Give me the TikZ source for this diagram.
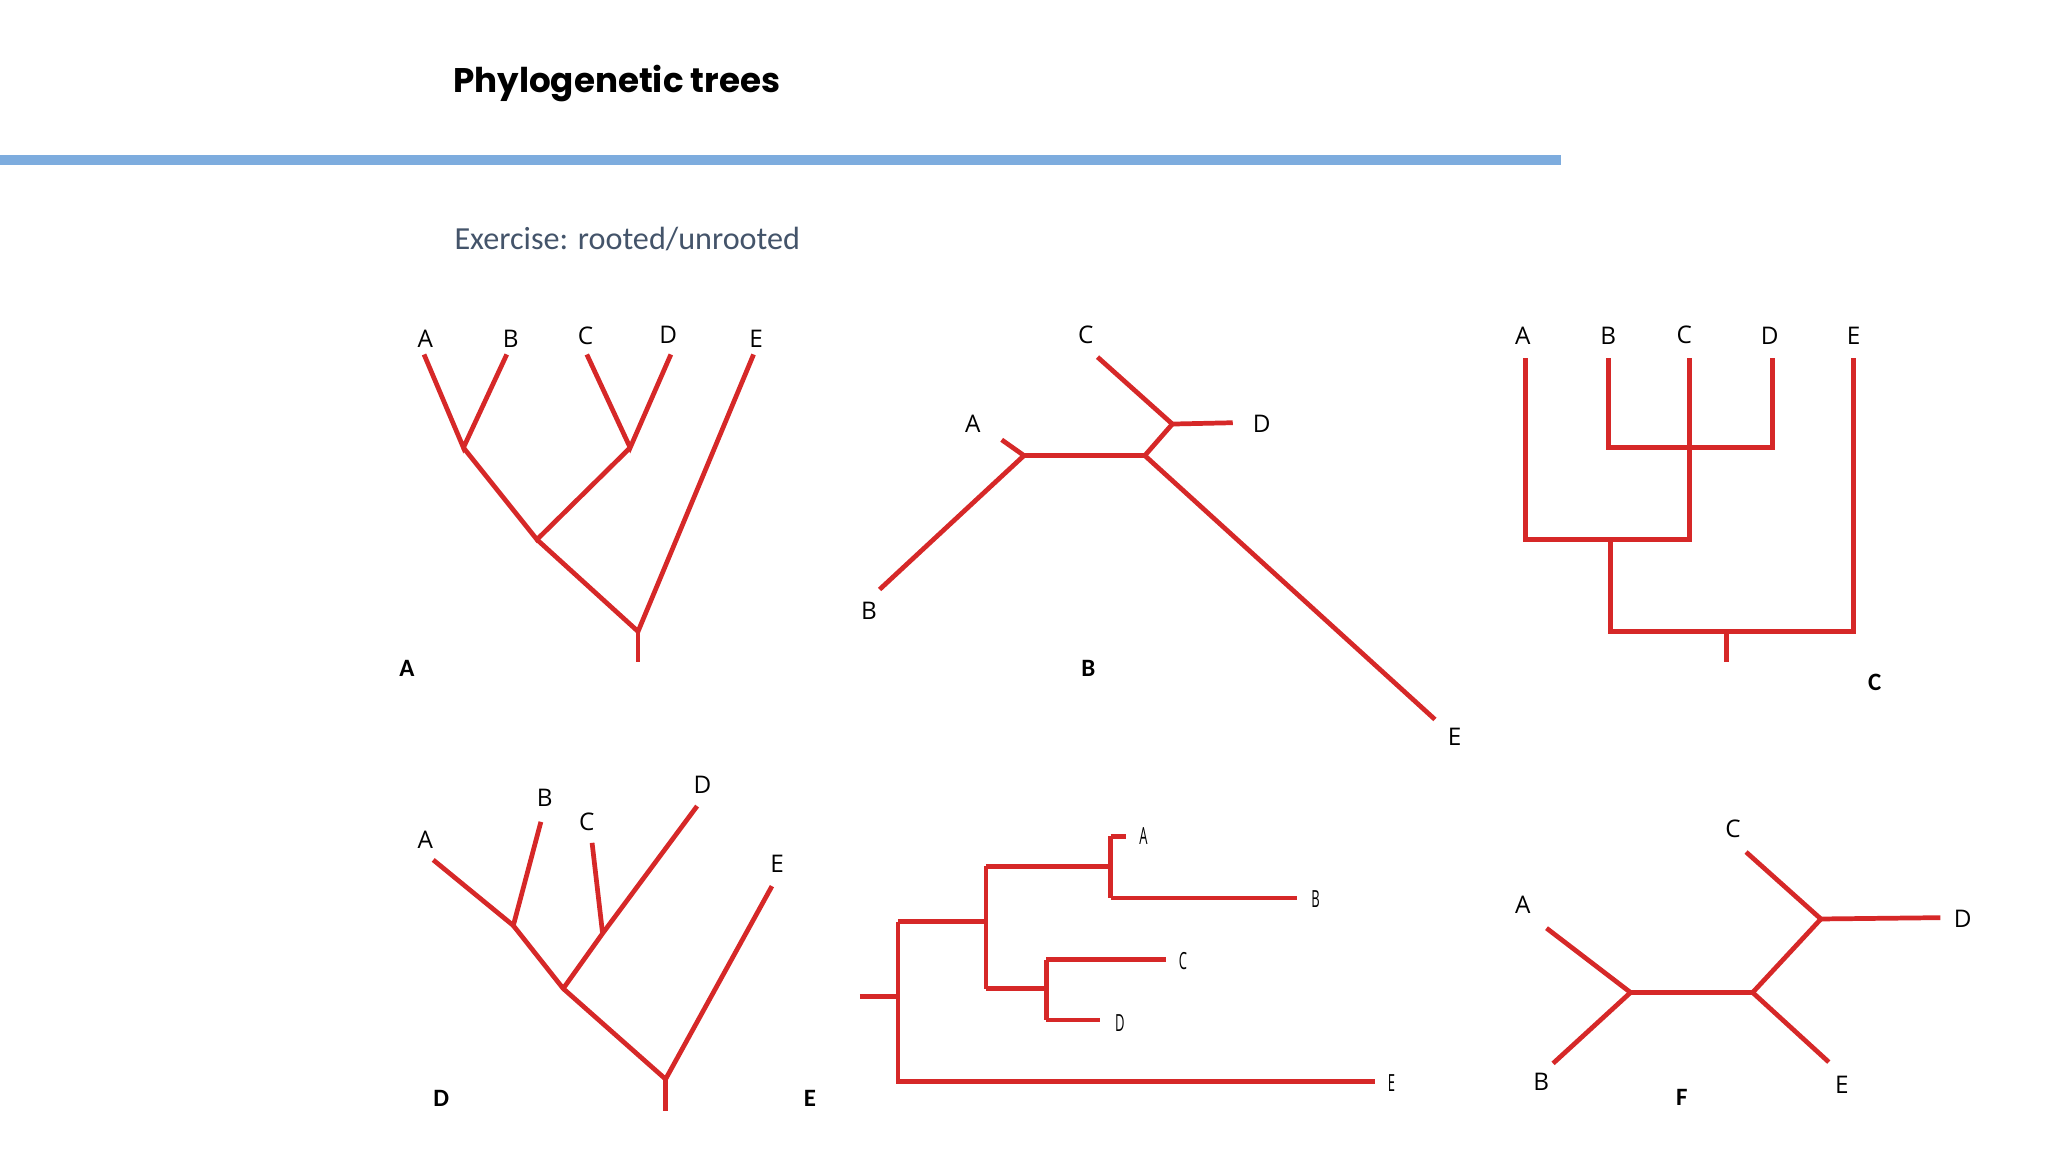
\documentclass[tikz,border=0pt]{standalone}
\usepackage{fontspec}
\setmainfont{Open Sans}
\newfontfamily\titlefont{Poppins}
\newfontfamily\subfont{Carlito}
\newfontfamily\boldlab{Carlito}
\definecolor{tree}{RGB}{214,40,40}
\definecolor{bar}{RGB}{125,172,222}
\definecolor{sub}{RGB}{68,84,106}
\begin{document}
\begin{tikzpicture}[x=1pt,y=-1pt,
  br/.style={draw=tree,line width=3.6pt,line cap=butt,line join=miter},
  lf/.style={font=\fontsize{18.5}{18.5}\selectfont,inner sep=0pt},
  nl/.style={font=\fontsize{18}{18}\selectfont,inner sep=0pt,xscale=0.55},
  tl/.style={font=\boldlab\bfseries\fontsize{19}{19}\selectfont,inner sep=0pt}]
\useasboundingbox (0,0) rectangle (1560,877.5);
\node[anchor=west,inner sep=0pt,font=\titlefont\bfseries\fontsize{26}{26}\selectfont] (title) at (345,64) {Phylogenetic\ trees};
\fill[bar] (0,118) rectangle (1189,126);
\node[anchor=west,inner sep=0pt,text=sub,font=\subfont\fontsize{24.5}{24.5}\selectfont] (subt) at (346,182) {Exercise: rooted/unrooted};
% Tree A
\coordinate (aA) at (323,270); \coordinate (aB) at (386,270); \coordinate (aC) at (447,270);
\coordinate (aD) at (511,270); \coordinate (aE) at (574,270);
\coordinate (aAB) at (353,341); \coordinate (aCD) at (480,341); \coordinate (aX) at (409,411);
\coordinate (aR) at (486,481); \coordinate (aS) at (486,504);
\draw[br] (aA)--(aAB)--(aB); \draw[br] (aC)--(aCD)--(aD);
\draw[br] (aAB)--(aX)--(aCD); \draw[br] (aX)--(aR)--(aE); \draw[br] (aR)--(aS);
\node[lf] (laA) at (324,258) {A}; \node[lf] (laB) at (389,258) {B}; \node[lf] (laC) at (446,256) {C};
\node[lf] (laD) at (509,255) {D}; \node[lf] (laE) at (576,258) {E};
\node[tl] (tA) at (310,509) {A};
% Tree B
\coordinate (bC) at (836,272); \coordinate (bn1) at (893,323); \coordinate (bD) at (939,322);
\coordinate (bn2) at (872,347); \coordinate (bn3) at (780,347); \coordinate (bA) at (763,335);
\coordinate (bB) at (670,449); \coordinate (bE) at (1093,548);
\draw[br] (bC)--(bn1)--(bD); \draw[br] (bn1)--(bn2)--(bn3)--(bA);
\draw[br] (bn3)--(bB); \draw[br] (bn2)--(bE);
\node[lf] (lbC) at (827,255) {C}; \node[lf] (lbD) at (961,323) {D}; \node[lf] (lbA) at (741,323) {A};
\node[lf] (lbB) at (662,465) {B}; \node[lf] (lbE) at (1108,561) {E};
\node[tl] (tB) at (829,509) {B};
% Tree C
\coordinate (cA) at (1162,273); \coordinate (cB) at (1225,273); \coordinate (cC) at (1287,273);
\coordinate (cD) at (1350,273); \coordinate (cE) at (1412,273);
\draw[br] (cB)--(1225,341)--(1350,341)--(cD);
\draw[br] (cC)--(1287,411)--(1162,411)--(cA);
\draw[br] (1227,411)--(1227,481)--(1412,481)--(cE);
\draw[br] (1315,481)--(1315,504);
\node[lf] (lcA) at (1160,256) {A}; \node[lf] (lcB) at (1225,256) {B}; \node[lf] (lcC) at (1283,255) {C};
\node[lf] (lcD) at (1348,256) {D}; \node[lf] (lcE) at (1412,256) {E};
\node[tl] (tC) at (1428,520) {C};
% Tree D
\coordinate (dA) at (330,655); \coordinate (dn1) at (391,705); \coordinate (dB) at (412,626);
\coordinate (dC) at (451,642); \coordinate (dn2) at (459,711); \coordinate (dD) at (531,614);
\coordinate (dn3) at (429,753); \coordinate (dR) at (507,822); \coordinate (dE) at (588,675);
\coordinate (dS) at (507,846);
\draw[br] (dA)--(dn1)--(dB); \draw[br] (dC)--(dn2); \draw[br] (dD)--(dn2)--(dn3);
\draw[br] (dn1)--(dn3)--(dR)--(dE); \draw[br] (dR)--(dS);
\node[lf] (ldA) at (324,640) {A}; \node[lf] (ldB) at (415,608) {B}; \node[lf] (ldC) at (447,626) {C};
\node[lf] (ldD) at (535,598) {D}; \node[lf] (ldE) at (592,658) {E};
\node[tl] (tD) at (336,837) {D};
% Tree E
\draw[br] (655,759)--(684,759);
\draw[br] (684,702)--(684,824)--(1047,824);
\draw[br] (684,702)--(751,702);
\draw[br] (751,660)--(751,753);
\draw[br] (751,660)--(846,660); \draw[br] (846,637)--(846,684);
\draw[br] (846,637)--(858,637); \draw[br] (846,684)--(988,684);
\draw[br] (751,753)--(797,753); \draw[br] (797,731)--(797,777);
\draw[br] (797,731)--(888,731); \draw[br] (797,777)--(838,777);
\node[nl] (leA) at (871,637) {A}; \node[nl] (leB) at (1002,685) {B}; \node[nl] (leC) at (901,732) {C};
\node[nl] (leD) at (853,779) {D}; \node[nl] (leE) at (1060,825) {E};
\node[tl] (tE) at (617,837) {E};
% Tree F
\coordinate (fA) at (1178,707); \coordinate (fL) at (1242,756); \coordinate (fB) at (1183,810);
\coordinate (fR) at (1335,756); \coordinate (fE) at (1393,809); \coordinate (fN) at (1387,700);
\coordinate (fC) at (1330,649); \coordinate (fD) at (1478,699);
\draw[br] (fA)--(fL)--(fB); \draw[br] (fL)--(fR)--(fE); \draw[br] (fR)--(fN)--(fC); \draw[br] (fN)--(fD);
\node[lf] (lfA) at (1160,689) {A}; \node[lf] (lfB) at (1174,824) {B}; \node[lf] (lfC) at (1320,631) {C};
\node[lf] (lfD) at (1495,700) {D}; \node[lf] (lfE) at (1403,826) {E};
\node[tl] (tF) at (1281,836) {F};
\end{tikzpicture}
\end{document}
